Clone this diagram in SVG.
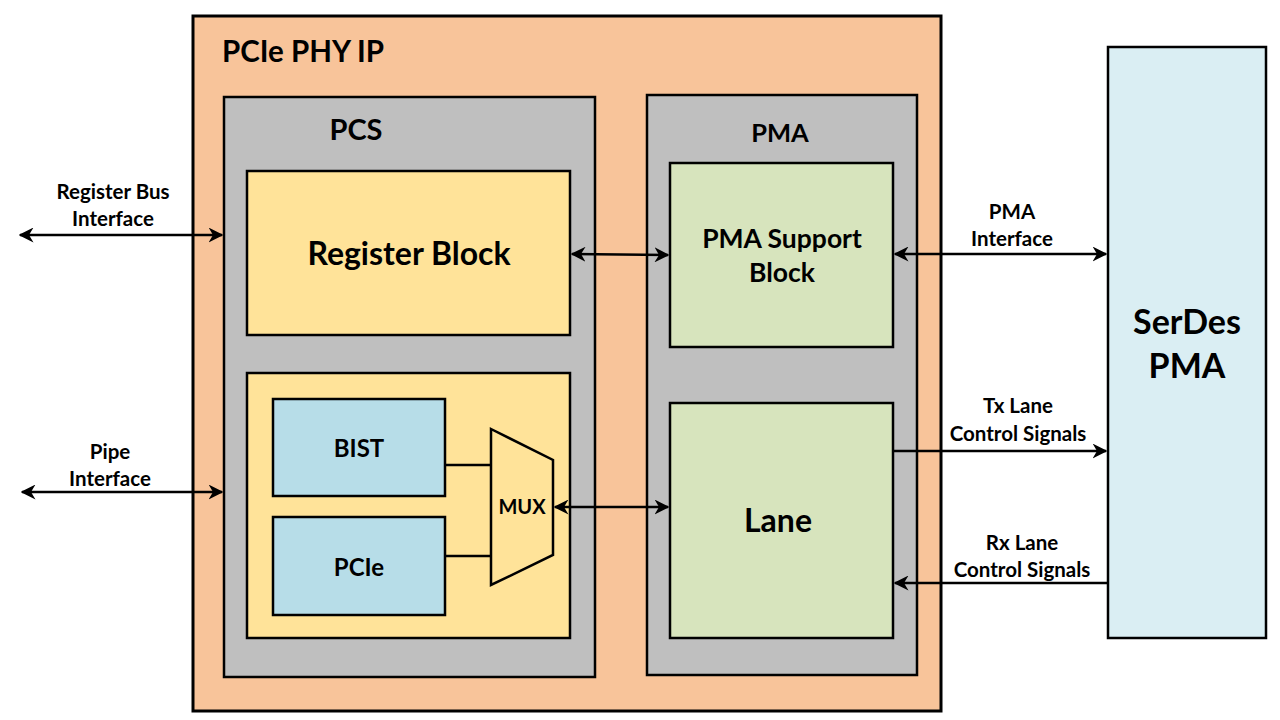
<svg xmlns="http://www.w3.org/2000/svg" width="1280" height="720" viewBox="0 0 1280 720">
<style>
text{font-family:Lato,"Open Sans","Liberation Sans",sans-serif;font-weight:bold;fill:#000;text-anchor:middle}
.box{stroke:#000;stroke-width:2.5}
.outer{fill:#F8C49A;stroke:#000;stroke-width:3}
.gray{fill:#BFBFBF}
.yel{fill:#FFE399}
.grn{fill:#D7E4BD}
.blu{fill:#B7DDE8}
.ser{fill:#DAEEF3}
.lbl{font-size:20.5px}
.wire{stroke:#000;stroke-width:2.5;fill:none}
</style>
<defs>
<marker id="ah" viewBox="0 0 10 10" refX="9" refY="5" markerWidth="6" markerHeight="6" orient="auto-start-reverse" markerUnits="strokeWidth">
<path d="M0,0 L10,5 L0,10 L3,5 z" fill="#000"/>
</marker>
</defs>
<rect width="1280" height="720" fill="#fff"/>
<g id="phy">
<rect class="outer" x="193" y="16" width="748" height="695"/>
<text x="222" y="62" font-size="29.5" style="text-anchor:start">PCIe PHY IP</text>
</g>
<g id="pcs">
<rect class="box gray" x="224" y="97" width="371" height="580"/>
<text x="356" y="140" font-size="29">PCS</text>
</g>
<g id="pma">
<rect class="box gray" x="647" y="95" width="270" height="580"/>
<text x="780" y="142" font-size="25.5">PMA</text>
</g>
<g id="register-block">
<rect class="box yel" x="247" y="171" width="323" height="164"/>
<text x="409" y="265" font-size="32">Register Block</text>
</g>
<g id="pcs-datapath">
<rect class="box yel" x="247" y="373" width="323" height="265"/>
</g>
<g id="bist">
<rect class="box blu" x="273" y="399" width="172" height="97"/>
<text x="359" y="457" font-size="24">BIST</text>
</g>
<g id="pcie">
<rect class="box blu" x="273" y="517" width="172" height="98"/>
<text x="359" y="576" font-size="24">PCIe</text>
</g>
<g id="mux">
<polygon class="box yel" points="491,429 553,460 553,555 491,585"/>
<text x="522" y="514" font-size="20">MUX</text>
</g>
<g id="pma-support">
<rect class="box grn" x="670" y="163" width="223" height="184"/>
<text x="782" y="248" font-size="26.5">PMA Support</text>
<text x="782" y="282" font-size="26.5">Block</text>
</g>
<g id="lane">
<rect class="box grn" x="670" y="403" width="223" height="235"/>
<text x="778" y="532" font-size="32">Lane</text>
</g>
<g id="serdes">
<rect class="box ser" x="1108" y="47" width="158" height="591"/>
<text x="1187" y="334" font-size="34">SerDes</text>
<text x="1187" y="378" font-size="34">PMA</text>
</g>
<g id="connectors">
<line class="wire" x1="20" y1="235" x2="222" y2="235" marker-start="url(#ah)" marker-end="url(#ah)"/>
<line class="wire" x1="22" y1="492" x2="222" y2="492" marker-start="url(#ah)" marker-end="url(#ah)"/>
<line class="wire" x1="572" y1="254" x2="668" y2="255" marker-start="url(#ah)" marker-end="url(#ah)"/>
<line class="wire" x1="895" y1="254" x2="1106" y2="254" marker-start="url(#ah)" marker-end="url(#ah)"/>
<line class="wire" x1="893" y1="451" x2="1106" y2="451" marker-end="url(#ah)"/>
<line class="wire" x1="1108" y1="583" x2="895" y2="583" marker-end="url(#ah)"/>
<line class="wire" x1="445" y1="465" x2="491" y2="465"/>
<line class="wire" x1="445" y1="556" x2="491" y2="556"/>
<line class="wire" x1="555" y1="507" x2="668" y2="507" marker-start="url(#ah)" marker-end="url(#ah)"/>
</g>
<g id="labels">
<text class="lbl" x="113" y="199">Register Bus</text>
<text class="lbl" x="113" y="226">Interface</text>
<text class="lbl" x="110" y="459">Pipe</text>
<text class="lbl" x="110" y="486">Interface</text>
<text class="lbl" x="1012" y="219">PMA</text>
<text class="lbl" x="1012" y="246">Interface</text>
<text class="lbl" x="1018" y="413">Tx Lane</text>
<text class="lbl" x="1018" y="441">Control Signals</text>
<text class="lbl" x="1022" y="550">Rx Lane</text>
<text class="lbl" x="1022" y="577">Control Signals</text>
</g>
</svg>
